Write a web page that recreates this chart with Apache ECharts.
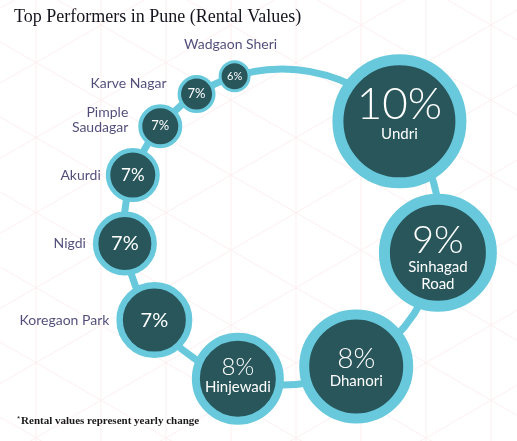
<!DOCTYPE html>
<html>
<head>
<meta charset="utf-8">
<script src="https://cdn.jsdelivr.net/npm/echarts@6/dist/echarts.min.js"></script>
<style>
  html, body { margin: 0; padding: 0; background: #fff; }
  #chart { width: 517px; height: 441px; }
</style>
</head>
<body>
<div id="chart"></div>
<script>
// data, ranked from the top performer down
const categories = ['Undri', 'Sinhagad Road', 'Dhanori', 'Hinjewadi', 'Koregaon Park',
  'Nigdi', 'Akurdi', 'Pimple Saudagar', 'Karve Nagar', 'Wadgaon Sheri'];
const values = [10, 9, 8, 8, 7, 7, 7, 7, 7, 6];

// layout / style (by rank)
const bubbleR = [67, 59, 57, 46, 38, 32, 27, 22, 19, 16];
const ringW = [11, 11, 10, 8, 6.5, 5.5, 4.5, 4, 3.5, 3];
const gapAfter = [11, 24, 16, 18, 12, 10, 7, 7.5, 7]; // space between neighbouring bubbles
const valueFont = [44, 38, 28, 24, 20, 20, 17, 13, 13, 11];
const labelShift = [-8, 5, 1, -3, 0, 0, 0, 0, 0, 0];
const nameInside = 4;
const wrapped = { 'Sinhagad Road': 'Sinhagad\nRoad', 'Pimple Saudagar': 'Pimple\nSaudagar' };
const outerLabel = {
  4: { position: 'left', distance: 7 },
  5: { position: 'left', distance: 7 },
  6: { position: 'left', distance: 5 },
  7: { position: 'left', distance: 10, offset: [0, -6] },
  8: { position: 'left', distance: 11, offset: [0, -11] },
  9: { position: 'top', distance: 8, offset: [-4, 0] }
};

const RING = 158, START_ANGLE = 42;
const FILL = '#29565b', LIGHT = '#68c9dc', INK = '#241f57';
const SANS = 'Lato, "Open Sans", sans-serif';

// place bubbles around the ring, clockwise from Undri
const angles = [START_ANGLE];
for (let i = 1; i < categories.length; i++) {
  const chord = bubbleR[i - 1] + bubbleR[i] + gapAfter[i - 1];
  const step = 2 * Math.asin(chord / (2 * RING)) * 180 / Math.PI;
  angles.push(angles[i - 1] - step);
}
const norm = a => ((a % 360) + 360) % 360;

const bubbleData = categories.map((name, i) => {
  const v = values[i] + '%';
  const inner = i < nameInside
    ? '{v|' + v + '}\n' + (wrapped[name] || name).split('\n').map(s => '{n|' + s + '}').join('\n')
    : '{v|' + v + '}';
  return {
    name: name,
    value: [1, norm(angles[i])],
    symbolSize: 2 * bubbleR[i] - ringW[i],
    itemStyle: { borderWidth: ringW[i] },
    label: {
      formatter: inner,
      offset: [0, labelShift[i]],
      rich: {
        v: { fontSize: valueFont[i], lineHeight: valueFont[i] * 0.95, color: '#fff', fontFamily: SANS, fontWeight: i < 4 ? 300 : 400 },
        n: { fontSize: 15, lineHeight: 17, color: '#fff', fontFamily: SANS }
      }
    }
  };
});

const nameData = [];
categories.forEach((name, i) => {
  const o = outerLabel[i];
  if (!o) return;
  nameData.push({
    name: name,
    value: [1, norm(angles[i])],
    symbolSize: 2 * bubbleR[i] - ringW[i],
    label: {
      show: true,
      position: o.position,
      distance: o.distance + ringW[i] / 2,
      offset: o.offset || [0, 0],
      formatter: wrapped[name] || name,
      align: o.position === 'left' ? 'right' : 'center',
      lineHeight: 15
    }
  });
});

// faint triangular background grid
const gridLines = [];
const W = 517, H = 441, DX = 65, SLOPE = Math.tan(Math.PI / 6), DY = DX / Math.cos(Math.PI / 6);
for (let x = 36; x < W; x += DX) {
  gridLines.push({ type: 'line', shape: { x1: x, y1: 0, x2: x, y2: H } });
}
for (let n = -12; n <= 12; n++) {
  const c = 25 + DY * n;
  gridLines.push({ type: 'line', shape: { x1: 0, y1: c - SLOPE * 361, x2: W, y2: c + SLOPE * (W - 361) } });
  gridLines.push({ type: 'line', shape: { x1: 0, y1: c + SLOPE * 361, x2: W, y2: c - SLOPE * (W - 361) } });
}
gridLines.forEach(g => {
  g.silent = true;
  g.z = -10;
  g.style = { stroke: '#fdeff1', lineWidth: 1 };
});

const option = {
  backgroundColor: '#fff',
  animation: false,
  title: {
    text: 'Top Performers in Pune (Rental Values)',
    left: 9,
    top: 3,
    textStyle: { fontFamily: '"Liberation Serif", serif', fontSize: 18, fontWeight: 'normal', color: '#14141f' }
  },
  polar: { center: [282, 227], radius: RING },
  angleAxis: {
    type: 'value', min: 0, max: 360, startAngle: 0, clockwise: false,
    axisLine: { show: true, lineStyle: { color: LIGHT, width: 7 } },
    axisTick: { show: false }, axisLabel: { show: false }, splitLine: { show: false }
  },
  radiusAxis: {
    type: 'value', min: 0, max: 1,
    axisLine: { show: false }, axisTick: { show: false }, axisLabel: { show: false }, splitLine: { show: false }
  },
  graphic: gridLines.concat([{
    type: 'text',
    left: 17,
    top: 415,
    style: {
      text: '{a|*}Rental values represent yearly change',
      rich: { a: { fontSize: 8, padding: [0, 1, 4, 0] } },
      fontFamily: '"Liberation Serif", serif',
      fontSize: 11,
      fontWeight: 'bold',
      fill: '#1a1a1a'
    }
  }]),
  series: [
    {
      type: 'scatter',
      coordinateSystem: 'polar',
      silent: true,
      z: 1,
      itemStyle: { color: 'transparent' },
      label: { color: INK, fontFamily: SANS, fontSize: 14 },
      data: nameData
    },
    {
      type: 'scatter',
      coordinateSystem: 'polar',
      z: 3,
      itemStyle: { color: FILL, borderColor: LIGHT, opacity: 1 },
      label: { show: true, position: 'inside', align: 'center' },
      data: bubbleData
    }
  ]
};

window.addEventListener('load', () => {
  const chart = echarts.init(document.getElementById('chart'));
  chart.setOption(option);
});
</script>
</body>
</html>
